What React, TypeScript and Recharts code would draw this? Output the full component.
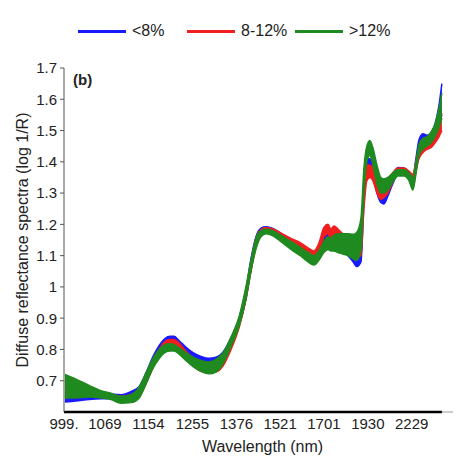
import React from "react";
import { ComposedChart, Area, XAxis, YAxis, ReferenceLine } from "recharts";

const WAVELENGTHS = [
  1001, 1019, 1041, 1062, 1080, 1099, 1118, 1135, 1149, 1164,
  1177, 1190, 1202, 1211, 1223, 1239, 1257, 1277, 1298, 1317,
  1337, 1360, 1384, 1405, 1421, 1437, 1454, 1471, 1495, 1524,
  1562, 1602, 1631, 1656, 1678, 1701, 1720, 1734, 1748, 1768,
  1793, 1819, 1846, 1867, 1890, 1907, 1924, 1942, 1960, 1985,
  2010, 2030, 2056, 2090, 2126, 2170, 2208, 2239, 2263, 2288,
  2322, 2356, 2392, 2429, 2467, 2496,
];

// lower / upper envelope of each moisture group (log 1/R)
const LOW_LO = [
  0.632, 0.635, 0.64, 0.642, 0.642, 0.64, 0.645, 0.655, 0.7, 0.75,
  0.785, 0.81, 0.82, 0.822, 0.808, 0.785, 0.765, 0.752, 0.745, 0.748,
  0.765, 0.812, 0.875, 0.96, 1.055, 1.13, 1.17, 1.178, 1.172, 1.157,
  1.132, 1.108, 1.09, 1.08, 1.1, 1.145, 1.155, 1.14, 1.14, 1.13,
  1.115, 1.1, 1.08, 1.065, 1.08, 1.27, 1.37, 1.38, 1.36, 1.3,
  1.27, 1.265, 1.29, 1.33, 1.36, 1.36, 1.345, 1.315, 1.37, 1.43,
  1.45, 1.45, 1.46, 1.48, 1.52, 1.55,
];
const LOW_HI = [
  0.668, 0.665, 0.662, 0.66, 0.657, 0.655, 0.665, 0.682, 0.725, 0.778,
  0.812, 0.835, 0.842, 0.842, 0.828, 0.808, 0.79, 0.778, 0.772, 0.775,
  0.792, 0.838, 0.9, 0.99, 1.09, 1.16, 1.188, 1.192, 1.187, 1.172,
  1.152, 1.132, 1.118, 1.108, 1.13, 1.175, 1.182, 1.17, 1.17, 1.16,
  1.148, 1.135, 1.12, 1.105, 1.15, 1.34, 1.41, 1.41, 1.39, 1.34,
  1.3, 1.29, 1.32, 1.36, 1.382, 1.38, 1.368, 1.35, 1.41, 1.47,
  1.49, 1.485, 1.49, 1.52, 1.58, 1.65,
];
const MID_LO = [
  0.648, 0.648, 0.65, 0.648, 0.643, 0.635, 0.637, 0.65, 0.69, 0.742,
  0.775, 0.8, 0.808, 0.81, 0.795, 0.77, 0.748, 0.73, 0.725, 0.728,
  0.748, 0.8, 0.87, 0.96, 1.05, 1.125, 1.165, 1.175, 1.17, 1.155,
  1.135, 1.115, 1.1, 1.092, 1.11, 1.16, 1.17, 1.155, 1.16, 1.15,
  1.135, 1.12, 1.105, 1.095, 1.1, 1.25, 1.34, 1.35, 1.34, 1.3,
  1.28, 1.285, 1.3, 1.335, 1.36, 1.36, 1.345, 1.33, 1.37, 1.41,
  1.43, 1.44, 1.445, 1.46, 1.48, 1.5,
];
const MID_HI = [
  0.7, 0.69, 0.675, 0.665, 0.658, 0.65, 0.655, 0.675, 0.715, 0.768,
  0.8, 0.825, 0.832, 0.832, 0.82, 0.795, 0.772, 0.755, 0.75, 0.755,
  0.775, 0.828, 0.895, 0.99, 1.08, 1.155, 1.183, 1.19, 1.185, 1.172,
  1.155, 1.14, 1.125, 1.115, 1.14, 1.19, 1.2, 1.185, 1.195, 1.185,
  1.17, 1.16, 1.15, 1.145, 1.18, 1.32, 1.39, 1.39, 1.38, 1.345,
  1.32, 1.32, 1.34, 1.365, 1.38, 1.38, 1.37, 1.36, 1.4, 1.445,
  1.46, 1.465, 1.475, 1.49, 1.52, 1.555,
];
const HIGH_LO = [
  0.645, 0.645, 0.648, 0.645, 0.64, 0.628, 0.63, 0.645, 0.69, 0.74,
  0.77, 0.79, 0.795, 0.795, 0.785, 0.765, 0.745, 0.73, 0.722, 0.728,
  0.755, 0.81, 0.875, 0.96, 1.05, 1.12, 1.16, 1.17, 1.163, 1.145,
  1.12, 1.098, 1.08, 1.07, 1.085, 1.11, 1.12, 1.115, 1.115, 1.11,
  1.105, 1.1, 1.09, 1.085, 1.12, 1.3, 1.4, 1.42, 1.39, 1.33,
  1.3, 1.3, 1.31, 1.335, 1.355, 1.355, 1.34, 1.31, 1.36, 1.42,
  1.44, 1.45, 1.46, 1.48, 1.51, 1.54,
];
const HIGH_HI = [
  0.72, 0.705, 0.685, 0.668, 0.66, 0.65, 0.655, 0.68, 0.725, 0.772,
  0.8, 0.815, 0.818, 0.815, 0.805, 0.79, 0.775, 0.765, 0.76, 0.768,
  0.79, 0.84, 0.905, 1.0, 1.085, 1.155, 1.18, 1.185, 1.18, 1.165,
  1.145, 1.125, 1.11, 1.1, 1.115, 1.145, 1.16, 1.155, 1.165, 1.17,
  1.17, 1.17, 1.168, 1.175, 1.22, 1.38, 1.45, 1.468, 1.445, 1.39,
  1.35, 1.345, 1.35, 1.365, 1.375, 1.375, 1.365, 1.35, 1.4, 1.455,
  1.475, 1.48, 1.495, 1.52, 1.57, 1.62,
];

const GROUPS = [
  { key: "low", name: "<8%", color: "#1a1aff", lo: LOW_LO, hi: LOW_HI },
  { key: "mid", name: "8-12%", color: "#f01e1e", lo: MID_LO, hi: MID_HI },
  { key: "high", name: ">12%", color: "#1f8a1f", lo: HIGH_LO, hi: HIGH_HI },
];

const TICK_NM = [999.5, 1069, 1154, 1255, 1376, 1521, 1701, 1930, 2229];
const TICK_LABELS = ["999.", "1069", "1154", "1255", "1376", "1521", "1701", "1930", "2229"];
const Y_TICKS = [0.7, 0.8, 0.9, 1, 1.1, 1.2, 1.3, 1.4, 1.5, 1.6, 1.7];

// the axis is linear in wavenumber (cm-1), labelled in nm
const toWn = (nm: number) => 1e7 / nm;

const data = WAVELENGTHS.map((nm, i) => {
  const row: Record<string, number> = { wn: toWn(nm) };
  GROUPS.forEach((g) => {
    row[g.key + "Lo"] = g.lo[i];
    row[g.key + "Hi"] = g.hi[i];
  });
  return row;
});

const font = '"Liberation Sans", Arial, sans-serif';
const xTicks = TICK_NM.map(toWn);

export default function App() {
  return (
    <div style={{ position: "relative", width: 458, height: 458, fontFamily: font, background: "#fff" }}>
      <ComposedChart
        width={458}
        height={458}
        data={data}
        margin={{ top: 60, right: 13, bottom: 4, left: 10 }}
      >
        <XAxis
          dataKey="wn"
          type="number"
          reversed
          domain={[3830, 10005]}
          allowDataOverflow
          ticks={xTicks}
          tickFormatter={(v: number) => {
            const i = xTicks.findIndex((t) => Math.abs(t - v) < 0.5);
            return i >= 0 ? TICK_LABELS[i] : "";
          }}
          interval={0}
          axisLine={false}
          tickLine={false}
          tickSize={4}
          tickMargin={2}
          height={50}
          tick={{ fill: "#222", fontSize: 15, fontFamily: font }}
          label={{
            value: "Wavelength (nm)",
            position: "insideBottom",
            offset: 10,
            dx: 4,
            fill: "#222",
            fontSize: 16,
            fontFamily: font,
          }}
        />
        <YAxis
          type="number"
          domain={[0.6, 1.7]}
          allowDataOverflow
          ticks={Y_TICKS}
          interval={0}
          width={46}
          axisLine={{ stroke: "#555" }}
          tickLine={{ stroke: "#555" }}
          tickSize={4}
          tickMargin={3}
          tick={{ fill: "#222", fontSize: 15, fontFamily: font }}
          label={{
            value: "Diffuse reflectance spectra (log 1/R)",
            angle: -90,
            position: "insideLeft",
            offset: 4,
            fill: "#222",
            fontSize: 16,
            fontFamily: font,
            style: { textAnchor: "middle" },
          }}
        />
        {GROUPS.map((g) => (
          <Area
            key={g.key}
            type="monotone"
            dataKey={(d: Record<string, number>) => [d[g.key + "Lo"], d[g.key + "Hi"]]}
            name={g.name}
            stroke={g.color}
            strokeWidth={1.5}
            fill={g.color}
            fillOpacity={1}
            isAnimationActive={false}
            dot={false}
            activeDot={false}
          />
        ))}
        <ReferenceLine y={0.6} stroke="#999" strokeWidth={1} />
        <ReferenceLine
          segment={[
            { x: 10005, y: 0.6 },
            { x: toWn(WAVELENGTHS[WAVELENGTHS.length - 1]), y: 0.6 },
          ]}
          stroke="#000"
          strokeWidth={2.5}
        />
      </ComposedChart>

      {/* legend */}
      {GROUPS.map((g, i) => (
        <div
          key={g.key}
          style={{ position: "absolute", top: 13, left: [70, 179, 287][i], display: "flex", alignItems: "center", height: 20 }}
        >
          <div style={{ width: 48, height: 3, background: g.color }} />
          <span style={{ marginLeft: 6, fontSize: 16, color: "#222" }}>{g.name}</span>
        </div>
      ))}

      <div style={{ position: "absolute", left: 65, top: 63, fontSize: 15, fontWeight: "bold", color: "#222" }}>
        (b)
      </div>
    </div>
  );
}
